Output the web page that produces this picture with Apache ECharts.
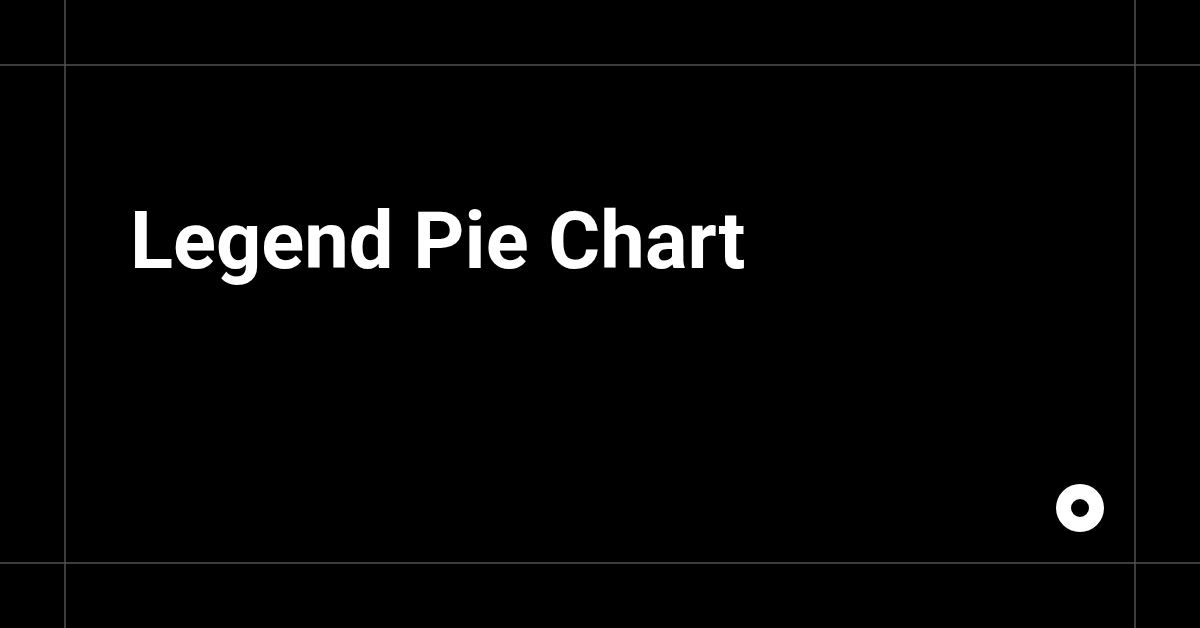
<!DOCTYPE html>
<html>
<head>
<meta charset="utf-8">
<script src="https://cdn.jsdelivr.net/npm/echarts@6/dist/echarts.min.js"></script>
<style>
html,body{margin:0;padding:0;background:#000;}
#main{width:1200px;height:628px;}
</style>
</head>
<body>
<div id="main"></div>
<script>
var titleText = 'Legend Pie Chart';
var verticalLines = [65, 1135];
var horizontalLines = [65, 563];
var logoNames = ['logo'];
var logoValues = [1];

var chart = echarts.init(document.getElementById('main'), null, {renderer: 'canvas'});
var graphics = [];
verticalLines.forEach(function (x) {
  graphics.push({type: 'line', shape: {x1: x, y1: 0, x2: x, y2: 628}, style: {stroke: '#505050', lineWidth: 1.5}, silent: true});
});
horizontalLines.forEach(function (y) {
  graphics.push({type: 'line', shape: {x1: 0, y1: y, x2: 1200, y2: y}, style: {stroke: '#505050', lineWidth: 1.5}, silent: true});
});
graphics.push({
  type: 'text', left: 130, top: 208,
  style: {text: titleText, fill: '#ffffff', font: '700 79.5px Roboto, sans-serif'}
});

chart.setOption({
  backgroundColor: '#000000',
  animation: false,
  graphic: graphics,
  series: [{
    type: 'pie',
    center: [1080, 508],
    radius: [9, 24],
    silent: true,
    label: {show: false},
    labelLine: {show: false},
    itemStyle: {color: '#ffffff'},
    data: logoNames.map(function (n, i) { return {name: n, value: logoValues[i]}; })
  }]
});
</script>
</body>
</html>
